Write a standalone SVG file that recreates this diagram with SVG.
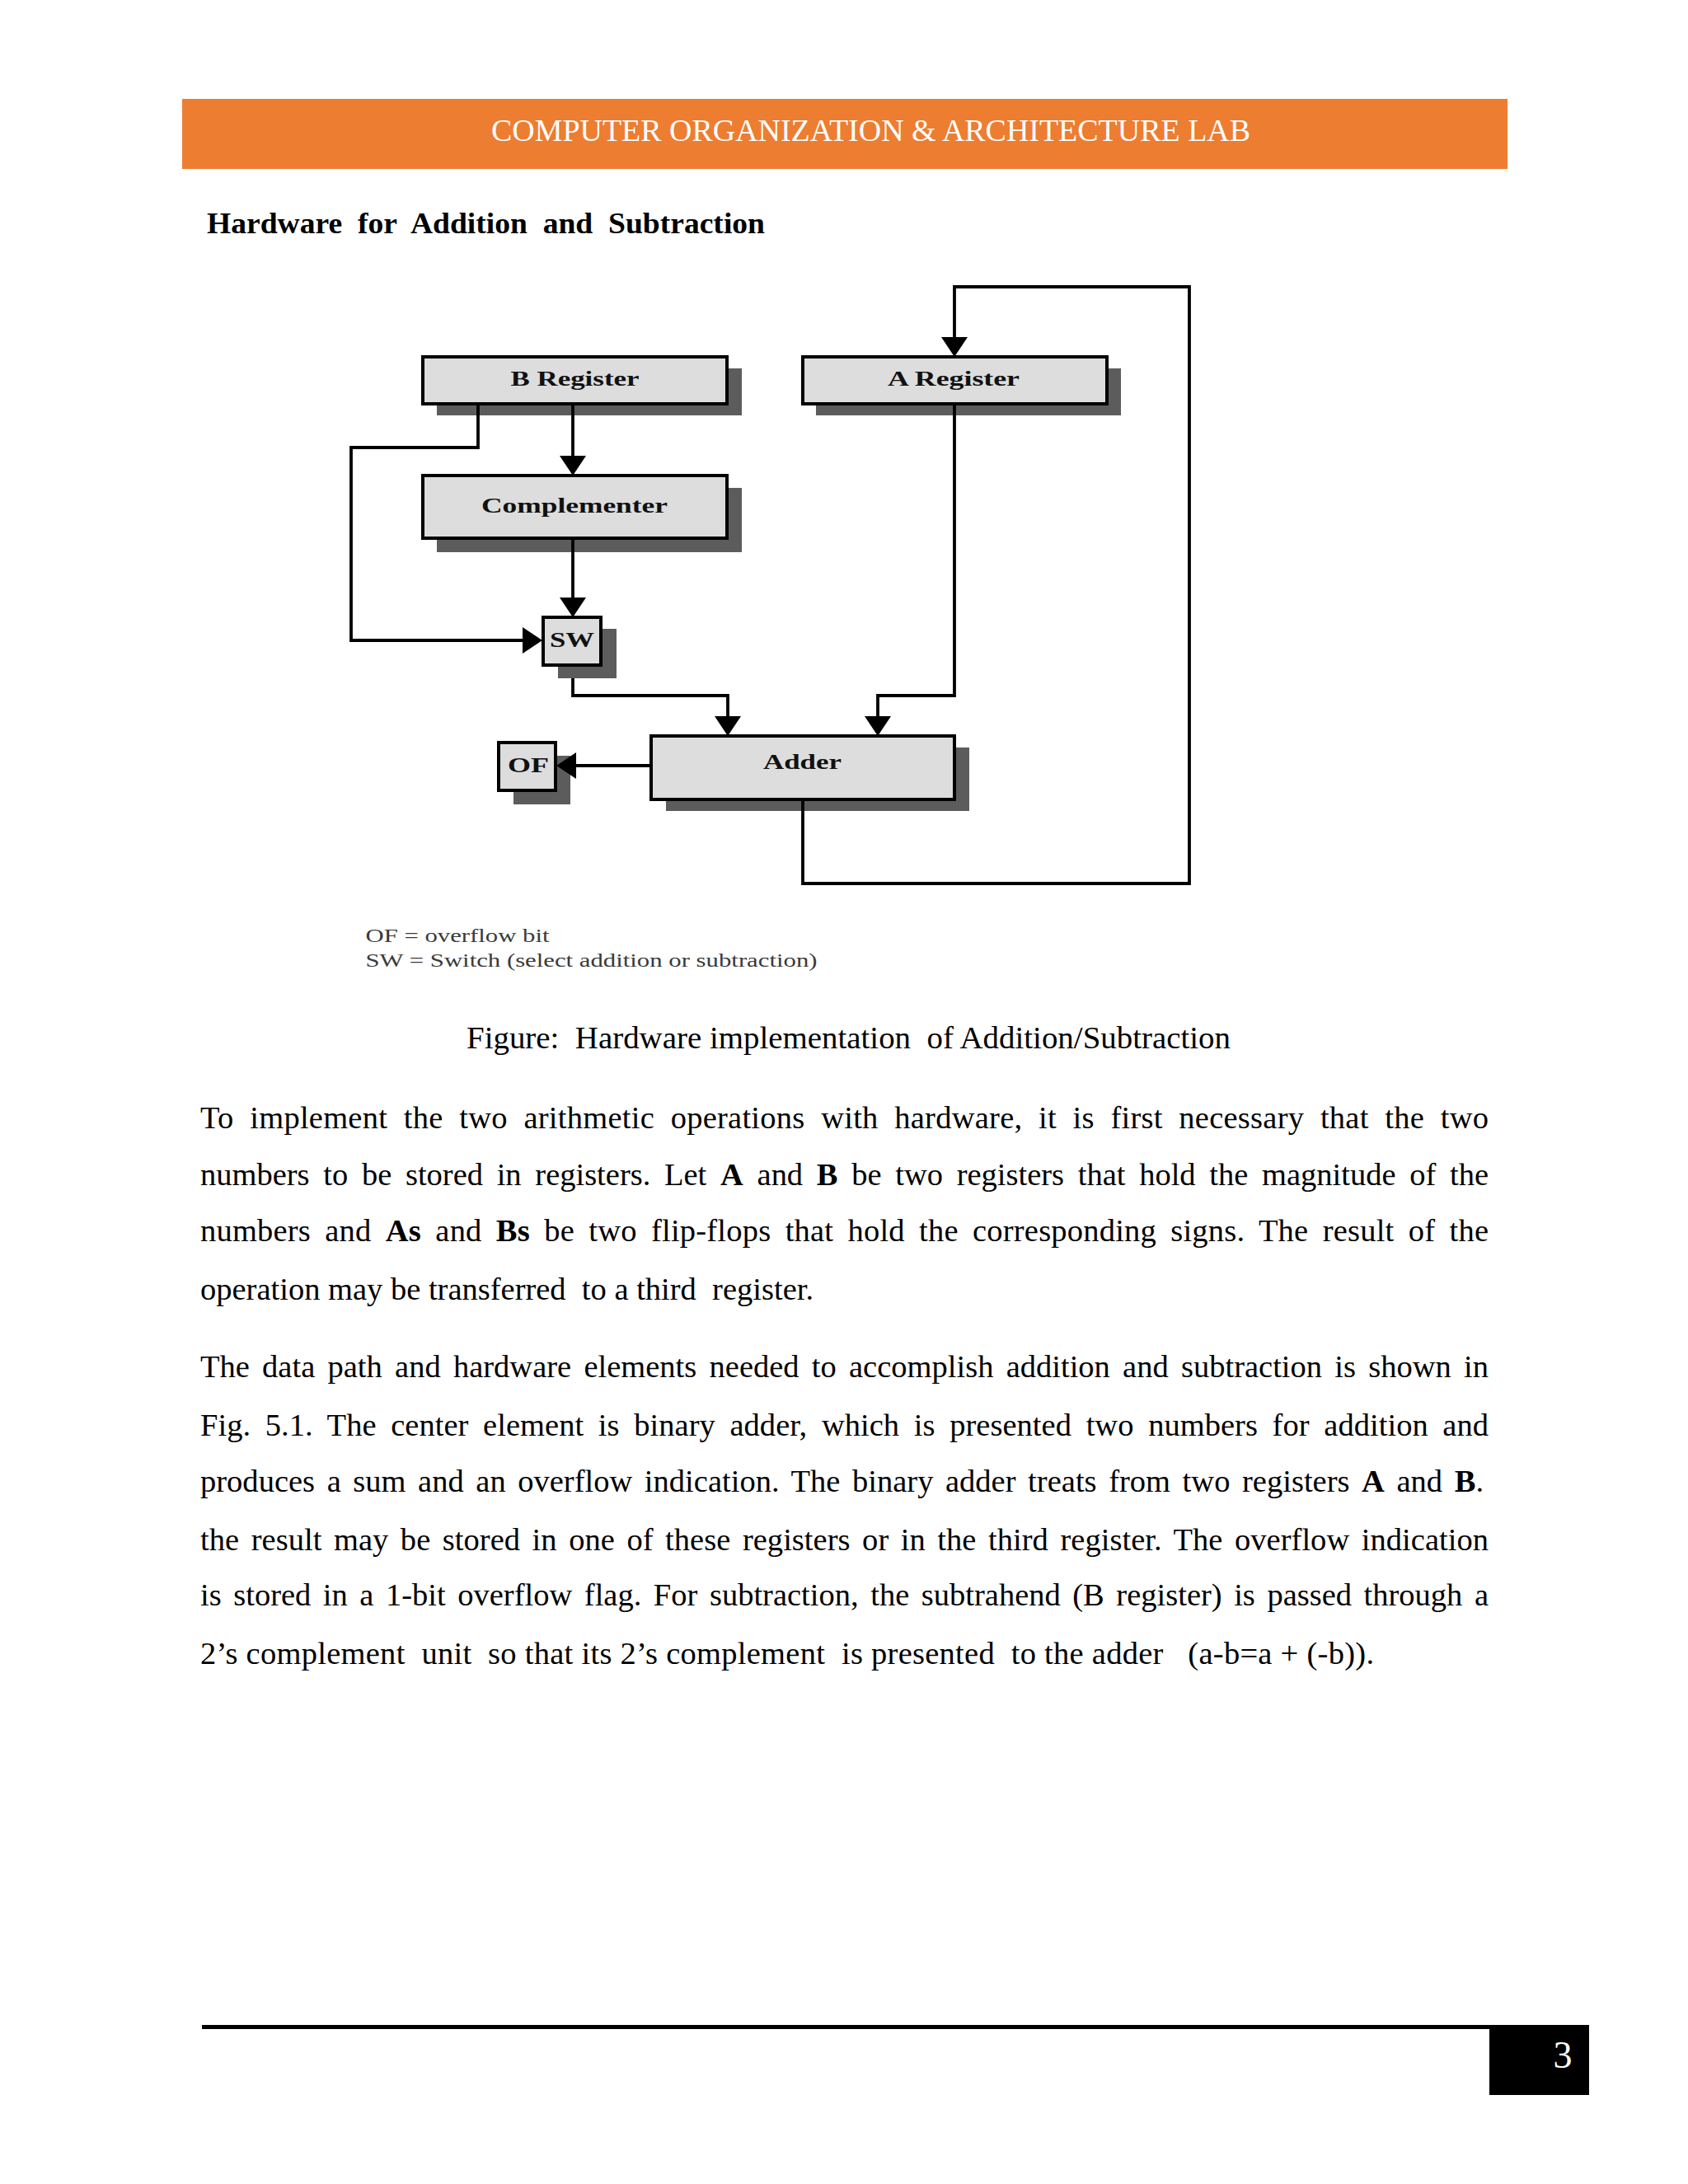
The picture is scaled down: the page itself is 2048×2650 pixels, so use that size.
<svg xmlns="http://www.w3.org/2000/svg" width="2048" height="2650" viewBox="0 0 2048 2650">
<defs>
<style>
.serif{font-family:"Liberation Serif","Times New Roman",serif;}
.box{fill:#dddddd;stroke:#000;stroke-width:4;}
.shadow{fill:#5c5c5c;}
.lbl{font-family:"Liberation Serif","Times New Roman",serif;font-weight:bold;font-size:26px;fill:#111;}
.conn{fill:none;stroke:#000;stroke-width:3.8;stroke-linejoin:miter;}
.body{font-family:"Liberation Serif","Times New Roman",serif;font-size:38.5px;fill:#000;white-space:pre;}
.legend{font-family:"Liberation Serif","Times New Roman",serif;font-size:23px;fill:#3a3a3a;}
</style>
<marker id="arr" viewBox="0 0 24 32" refX="20" refY="16" markerWidth="24" markerHeight="32" markerUnits="userSpaceOnUse" orient="auto">
<path d="M0,0 L24,16 L0,32 z" fill="#000"/>
</marker>
</defs>
<rect x="0" y="0" width="2048" height="2650" fill="#ffffff"/>

<g id="header">
<rect x="221" y="120" width="1608" height="85" fill="#ED7D31"/>
<text class="serif" x="596" y="171" font-size="37" fill="#ffffff" textLength="921" lengthAdjust="spacingAndGlyphs">COMPUTER ORGANIZATION &amp; ARCHITECTURE LAB</text>
</g>

<text class="serif" x="251" y="283" font-size="36" font-weight="bold" fill="#000" textLength="677" lengthAdjust="spacingAndGlyphs" style="white-space:pre">Hardware  for  Addition  and  Subtraction</text>

<g id="b-register">
<rect class="shadow" x="530" y="447" width="370" height="57"/>
<rect class="box" x="513" y="433" width="369" height="57"/>
<text class="lbl" x="619.5" y="468" textLength="156" lengthAdjust="spacingAndGlyphs">B Register</text>
</g>
<g id="a-register">
<rect class="shadow" x="990" y="447" width="370" height="57"/>
<rect class="box" x="974" y="433" width="369" height="57"/>
<text class="lbl" x="1077" y="468" textLength="160" lengthAdjust="spacingAndGlyphs">A Register</text>
</g>
<g id="complementer">
<rect class="shadow" x="530" y="592" width="370" height="78"/>
<rect class="box" x="513" y="577" width="369" height="76"/>
<text class="lbl" x="584" y="622" textLength="226" lengthAdjust="spacingAndGlyphs">Complementer</text>
</g>
<g id="sw">
<rect class="shadow" x="677" y="763" width="71" height="60"/>
<rect class="box" x="659" y="749" width="70" height="58"/>
<text class="lbl" x="667" y="785" textLength="54" lengthAdjust="spacingAndGlyphs">SW</text>
</g>
<g id="adder">
<rect class="shadow" x="808" y="907" width="368" height="77"/>
<rect class="box" x="790" y="893" width="368" height="77"/>
<text class="lbl" x="926" y="933" textLength="95" lengthAdjust="spacingAndGlyphs">Adder</text>
</g>
<g id="of">
<rect class="shadow" x="623" y="917" width="69" height="59"/>
<rect class="box" x="605" y="901" width="69" height="58"/>
<text class="lbl" x="616" y="937" textLength="50" lengthAdjust="spacingAndGlyphs">OF</text>
</g>

<g id="connectors">
<path class="conn" d="M695,491 V573" marker-end="url(#arr)"/>
<path class="conn" d="M580,491 V543 H426 V777 H654" marker-end="url(#arr)"/>
<path class="conn" d="M695,654 V745" marker-end="url(#arr)"/>
<path class="conn" d="M695,823 V844 H883 V889" marker-end="url(#arr)"/>
<path class="conn" d="M1158,491 V844 H1065 V889" marker-end="url(#arr)"/>
<path class="conn" d="M789,929 H679" marker-end="url(#arr)"/>
<path class="conn" d="M974,971 V1072 H1443 V348 H1158 V429" marker-end="url(#arr)"/>
</g>

<g id="legend">
<text class="legend" x="443.5" y="1143" textLength="223" lengthAdjust="spacingAndGlyphs">OF = overflow bit</text>
<text class="legend" x="443.5" y="1173" textLength="548" lengthAdjust="spacingAndGlyphs">SW = Switch (select addition or subtraction)</text>
</g>

<text class="serif" x="566" y="1272" font-size="38" fill="#000" textLength="927" lengthAdjust="spacingAndGlyphs" style="white-space:pre">Figure:  Hardware implementation  of Addition/Subtraction</text>

<g id="paragraph1">
<text class="body" x="243" y="1369" word-spacing="9.8" textLength="1563" lengthAdjust="spacing">To implement the two arithmetic operations with hardware, it is first necessary that the two</text>
<text class="body" x="243" y="1438" word-spacing="7.1" textLength="1563" lengthAdjust="spacing">numbers to be stored in registers. Let <tspan font-weight="bold">A</tspan> and <tspan font-weight="bold">B</tspan> be two registers that hold the magnitude of the</text>
<text class="body" x="243" y="1506" word-spacing="7.5" textLength="1563" lengthAdjust="spacing">numbers and <tspan font-weight="bold">As</tspan> and <tspan font-weight="bold">Bs</tspan> be two flip-flops that hold the corresponding signs. The result of the</text>
<text class="body" x="243" y="1577">operation may be transferred  to a third  register.</text>
</g>

<g id="paragraph2">
<text class="body" x="243" y="1671" word-spacing="5.6" textLength="1563" lengthAdjust="spacing">The data path and hardware elements needed to accomplish addition and subtraction is shown in</text>
<text class="body" x="243" y="1742" word-spacing="8" textLength="1563" lengthAdjust="spacing">Fig. 5.1. The center element is binary adder, which is presented two numbers for addition and</text>
<text class="body" x="243" y="1810" word-spacing="4.9" textLength="1557" lengthAdjust="spacing">produces a sum and an overflow indication. The binary adder treats from two registers <tspan font-weight="bold">A</tspan> and <tspan font-weight="bold">B</tspan>.</text>
<text class="body" x="243" y="1881" word-spacing="4.9" textLength="1563" lengthAdjust="spacing">the result may be stored in one of these registers or in the third register. The overflow indication</text>
<text class="body" x="243" y="1948" word-spacing="4.9" textLength="1563" lengthAdjust="spacing">is stored in a 1-bit overflow flag. For subtraction, the subtrahend (B register) is passed through a</text>
<text class="body" x="243" y="2019" textLength="1424" lengthAdjust="spacing">2’s complement  unit  so that its 2’s complement  is presented  to the adder   (a-b=a + (-b)).</text>
</g>

<g id="footer">
<rect x="245" y="2457" width="1562" height="5" fill="#000"/>
<rect x="1807" y="2457" width="121" height="85" fill="#000"/>
<text class="serif" x="1896" y="2509" font-size="46" fill="#ffffff" text-anchor="middle">3</text>
</g>
</svg>
